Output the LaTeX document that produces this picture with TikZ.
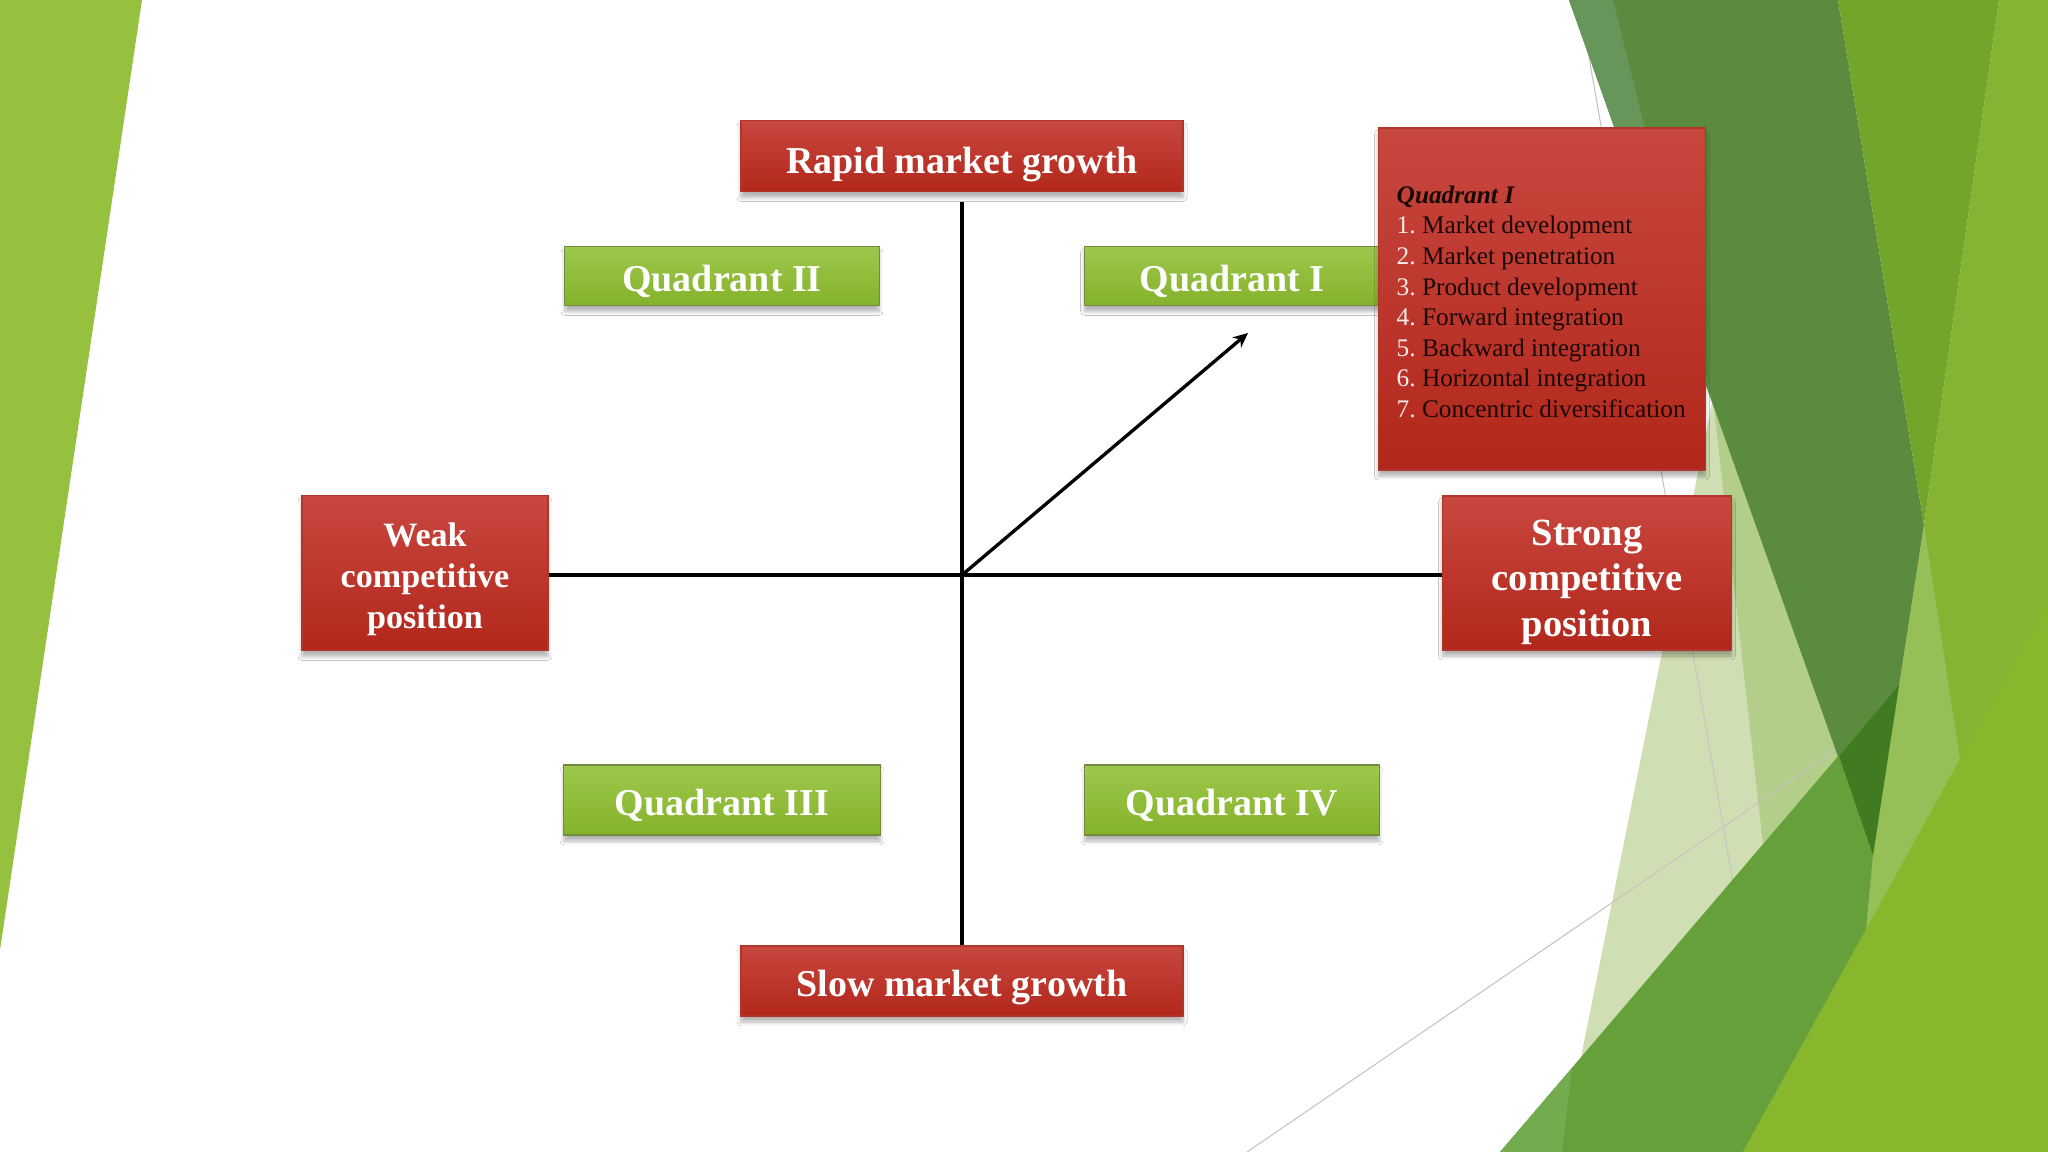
\documentclass[tikz,border=0pt]{standalone}
\usepackage{fontspec}
\setmainfont{Liberation Serif}
\usetikzlibrary{arrows.meta,shadows.blur}
\definecolor{leftgreen}{HTML}{96C13F}
\definecolor{palegreen}{HTML}{D0DFB3}
\definecolor{medpale}{HTML}{B3CD8B}
\definecolor{darkgreen}{HTML}{5B8B3E}
\definecolor{darkstrip}{HTML}{66965A}
\definecolor{olivegreen}{HTML}{73A52B}
\definecolor{brightR}{HTML}{86B332}
\definecolor{lightband}{HTML}{96BF58}
\definecolor{midgreen}{HTML}{65A03A}
\definecolor{midlight}{HTML}{72AC4E}
\definecolor{darkover}{HTML}{417B21}
\definecolor{brightL}{HTML}{88B62C}
\definecolor{facetline}{HTML}{C4C4C4}
\definecolor{redtop}{HTML}{C8473F}
\definecolor{redbot}{HTML}{B2271B}
\definecolor{redborder}{HTML}{B0352B}
\definecolor{greentop}{HTML}{9DC84C}
\definecolor{greenbot}{HTML}{85B22B}
\definecolor{greenborder}{HTML}{6F8B3F}
\definecolor{numwhite}{HTML}{F6ECE8}
\definecolor{listink}{HTML}{1A0805}
\newcommand{\lowr}[2]{\raisebox{-#1}[\height][\depth]{#2}}
\tikzset{
  boxbase/.style={align=center, inner sep=0pt, text=white,
    blur shadow={shadow blur steps=6, shadow xshift=0pt, shadow yshift=-1.7pt, shadow blur radius=1.1pt, shadow opacity=30}},
  redbox/.style={boxbase, draw=redborder, line width=0.4pt, top color=redtop, bottom color=redbot,
    font=\bfseries\fontsize{10.8}{13}\selectfont},
  greenbox/.style={boxbase, draw=greenborder, line width=0.3pt, top color=greentop, bottom color=greenbot,
    font=\bfseries\fontsize{10.8}{13}\selectfont},
  axisline/.style={line width=1.15pt, black},
  arrowline/.style={line width=0.95pt, black, -{Stealth[length=4.2pt, width=3.8pt]}},
  facetedge/.style={facetline, line width=0.3pt}
}
\begin{document}
\begin{tikzpicture}[x=0.01cm,y=-0.01cm]
\useasboundingbox (0,0) rectangle (2048,1152);
\fill[white] (0,0) rectangle (2048,1152);
% background facets
\fill[leftgreen] (0,0) -- (142,0) -- (0,950) -- cycle;
\fill[palegreen] (1712,403) -- (1873,855) -- (1800,1152) -- (1562,1152) -- cycle;
\fill[medpale] (1714,408) -- (1839,756) -- (1763,844) -- cycle;
\draw[facetedge] (1579,0) -- (1780,1152);
\draw[facetedge] (1247,1152) -- (2048,605);
\fill[brightR] (1999,0) -- (2048,0) -- (2048,1152) -- (1866,930) -- (1873,855) -- (1924,525) -- cycle;
\fill[darkgreen] (1569,0) -- (1838,0) -- (1924,525) -- (1873,855) -- cycle;
\fill[darkstrip] (1569,0) -- (1613,0) -- (1714,408) -- cycle;
\fill[olivegreen] (1838,0) -- (1999,0) -- (1924,525) -- cycle;
\fill[lightband] (1924,525) -- (1960,760) -- (1866,930) -- (1873,855) -- cycle;
\fill[midgreen] (1500,1152) -- (1899,685) -- (1873,855) -- (1866,930) -- (1743,1152) -- cycle;
\fill[midlight] (1500,1152) -- (1572,1068) -- (1562,1152) -- cycle;
\fill[darkover] (1839,756) -- (1899,685) -- (1873,855) -- cycle;
\fill[brightL] (2048,600) -- (2048,1152) -- (1743,1152) -- cycle;
% boxes
\node[redbox, minimum width=4.42cm, minimum height=0.71cm] (rapid) at (962,156) {\lowr{2.3pt}{Rapid market growth}};
\node[redbox, minimum width=4.42cm, minimum height=0.70cm] (slow) at (962,981) {\lowr{1.85pt}{Slow market growth}};
\node[greenbox, minimum width=3.14cm, minimum height=0.59cm] (q2) at (722,276) {\lowr{1.4pt}{Quadrant II}};
\node[greenbox, minimum width=2.95cm, minimum height=0.59cm] (q1) at (1232,276) {\lowr{1.4pt}{Quadrant I}};
\node[greenbox, minimum width=3.16cm, minimum height=0.70cm] (q3) at (722,800) {\lowr{1.4pt}{Quadrant III}};
\node[greenbox, minimum width=2.94cm, minimum height=0.70cm] (q4) at (1232,800) {\lowr{1.4pt}{Quadrant IV}};
\node[redbox, minimum width=2.46cm, minimum height=1.55cm, font=\bfseries\fontsize{9.7}{11.7}\selectfont] (weak) at (425,573)
  {\lowr{1.85pt}{Weak}\\\lowr{1.85pt}{competitive}\\\lowr{1.85pt}{position}};
\node[redbox, minimum width=2.89cm, minimum height=1.54cm, font=\bfseries\fontsize{10.95}{13}\selectfont] (strong) at (1587,573)
  {\lowr{2.6pt}{Strong}\\\lowr{2.6pt}{competitive}\\\lowr{2.6pt}{position}};
\node[redbox, minimum width=3.27cm, minimum height=3.42cm] (listbox) at (1542,299) {};
\node[anchor=north west, align=left, inner sep=0pt, text=listink, font=\fontsize{7.2}{8.7}\selectfont] (listtext) at (1396,185)
  {\textbf{\textit{Quadrant I}}\\
   \textcolor{numwhite}{1.}\ Market development\\
   \textcolor{numwhite}{2.}\ Market penetration\\
   \textcolor{numwhite}{3.}\ Product development\\
   \textcolor{numwhite}{4.}\ Forward integration\\
   \textcolor{numwhite}{5.}\ Backward integration\\
   \textcolor{numwhite}{6.}\ Horizontal integration\\
   \textcolor{numwhite}{7.}\ Concentric diversification};
% axes
\coordinate (origin) at (962,575);
\coordinate (tip) at (1248,333);
\draw[axisline] ([yshift=-0.1cm]rapid.south) -- (slow.north);
\draw[axisline] (weak.east |- origin) -- (strong.west |- origin);
\draw[arrowline] (origin) -- (tip);
\end{tikzpicture}
\end{document}
